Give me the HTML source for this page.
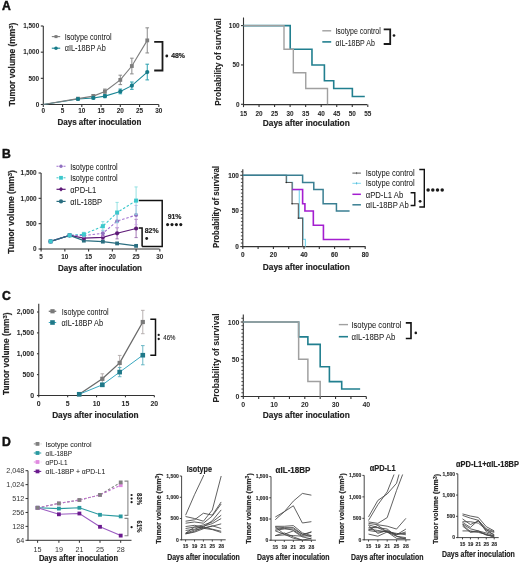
<!DOCTYPE html><html><head><meta charset="utf-8"><style>html,body{margin:0;padding:0;background:#fff;width:520px;height:564px;overflow:hidden}svg text{font-family:"Liberation Sans",sans-serif}</style></head><body><svg width="520" height="564" viewBox="0 0 520 564" style="display:block;filter:blur(0.35px)">
<rect width="520" height="564" fill="#fff"/>
<text x="6.30" y="10.19" font-size="12.2" font-weight="bold" text-anchor="middle" fill="#111" stroke="#111" stroke-width="0.45">A</text>
<text x="6.30" y="158.19" font-size="12.2" font-weight="bold" text-anchor="middle" fill="#111" stroke="#111" stroke-width="0.45">B</text>
<text x="6.30" y="299.99" font-size="12.2" font-weight="bold" text-anchor="middle" fill="#111" stroke="#111" stroke-width="0.45">C</text>
<text x="6.30" y="446.19" font-size="12.2" font-weight="bold" text-anchor="middle" fill="#111" stroke="#111" stroke-width="0.45">D</text>
<line x1="43.30" y1="105.05" x2="43.30" y2="26.00" stroke="#333" stroke-width="1.1"/>
<line x1="42.75" y1="104.50" x2="158.80" y2="104.50" stroke="#333" stroke-width="1.1"/>
<line x1="43.30" y1="104.50" x2="43.30" y2="107.00" stroke="#333" stroke-width="1.1"/>
<text x="43.30" y="113.30" font-size="6.4" font-weight="bold" text-anchor="middle" fill="#2a2a2a" stroke="#2a2a2a" stroke-width="0.05">0</text>
<line x1="62.55" y1="104.50" x2="62.55" y2="107.00" stroke="#333" stroke-width="1.1"/>
<text x="62.55" y="113.30" font-size="6.4" font-weight="bold" text-anchor="middle" fill="#2a2a2a" stroke="#2a2a2a" stroke-width="0.05">5</text>
<line x1="81.80" y1="104.50" x2="81.80" y2="107.00" stroke="#333" stroke-width="1.1"/>
<text x="81.80" y="113.30" font-size="6.4" font-weight="bold" text-anchor="middle" fill="#2a2a2a" stroke="#2a2a2a" stroke-width="0.05">10</text>
<line x1="101.05" y1="104.50" x2="101.05" y2="107.00" stroke="#333" stroke-width="1.1"/>
<text x="101.05" y="113.30" font-size="6.4" font-weight="bold" text-anchor="middle" fill="#2a2a2a" stroke="#2a2a2a" stroke-width="0.05">15</text>
<line x1="120.30" y1="104.50" x2="120.30" y2="107.00" stroke="#333" stroke-width="1.1"/>
<text x="120.30" y="113.30" font-size="6.4" font-weight="bold" text-anchor="middle" fill="#2a2a2a" stroke="#2a2a2a" stroke-width="0.05">20</text>
<line x1="139.55" y1="104.50" x2="139.55" y2="107.00" stroke="#333" stroke-width="1.1"/>
<text x="139.55" y="113.30" font-size="6.4" font-weight="bold" text-anchor="middle" fill="#2a2a2a" stroke="#2a2a2a" stroke-width="0.05">25</text>
<line x1="158.80" y1="104.50" x2="158.80" y2="107.00" stroke="#333" stroke-width="1.1"/>
<text x="158.80" y="113.30" font-size="6.4" font-weight="bold" text-anchor="middle" fill="#2a2a2a" stroke="#2a2a2a" stroke-width="0.05">30</text>
<line x1="40.80" y1="104.50" x2="43.30" y2="104.50" stroke="#333" stroke-width="1.1"/>
<text x="39.20" y="106.80" font-size="6.4" font-weight="bold" text-anchor="end" fill="#2a2a2a" stroke="#2a2a2a" stroke-width="0.05">0</text>
<line x1="40.80" y1="78.33" x2="43.30" y2="78.33" stroke="#333" stroke-width="1.1"/>
<text x="39.20" y="80.64" font-size="6.4" font-weight="bold" text-anchor="end" fill="#2a2a2a" stroke="#2a2a2a" stroke-width="0.05">500</text>
<line x1="40.80" y1="52.17" x2="43.30" y2="52.17" stroke="#333" stroke-width="1.1"/>
<text x="39.20" y="54.47" font-size="6.4" font-weight="bold" text-anchor="end" fill="#2a2a2a" stroke="#2a2a2a" stroke-width="0.05">1,000</text>
<line x1="40.80" y1="26.00" x2="43.30" y2="26.00" stroke="#333" stroke-width="1.1"/>
<text x="39.20" y="28.30" font-size="6.4" font-weight="bold" text-anchor="end" fill="#2a2a2a" stroke="#2a2a2a" stroke-width="0.05">1,500</text>
<text x="99.40" y="125.40" font-size="8.6" font-weight="bold" text-anchor="middle" fill="#222" stroke="#222" stroke-width="0.18" textLength="84" lengthAdjust="spacingAndGlyphs">Days after inoculation</text>
<text x="11.60" y="67.50" font-size="8.6" font-weight="bold" text-anchor="middle" fill="#222" stroke="#222" stroke-width="0.18" textLength="83.5" lengthAdjust="spacingAndGlyphs" transform="rotate(-90 11.60 64.40)">Tumor volume (mm<tspan font-size="0.7em" dy="-0.35em">3</tspan><tspan dy="0.35em">)</tspan></text>
<polyline points="43.30,104.50 77.95,99.00 93.35,97.96 104.90,96.13 120.30,91.42 131.85,85.66 147.25,72.05" fill="none" stroke="#1b8796" stroke-width="1.1" stroke-linecap="butt" stroke-linejoin="miter"/>
<polyline points="43.30,104.50 77.95,98.64 93.35,96.13 104.90,91.42 120.30,79.90 131.85,66.03 147.25,40.39" fill="none" stroke="#7d7d7d" stroke-width="1.1" stroke-linecap="butt" stroke-linejoin="miter"/>
<line x1="77.95" y1="99.69" x2="77.95" y2="97.59" stroke="#8a8a8a" stroke-width="1"/>
<line x1="76.15" y1="99.69" x2="79.75" y2="99.69" stroke="#8a8a8a" stroke-width="1"/>
<line x1="76.15" y1="97.59" x2="79.75" y2="97.59" stroke="#8a8a8a" stroke-width="1"/>
<rect x="76.05" y="96.74" width="3.80" height="3.80" fill="#7d7d7d"/>
<line x1="93.35" y1="97.70" x2="93.35" y2="94.56" stroke="#8a8a8a" stroke-width="1"/>
<line x1="91.55" y1="97.70" x2="95.15" y2="97.70" stroke="#8a8a8a" stroke-width="1"/>
<line x1="91.55" y1="94.56" x2="95.15" y2="94.56" stroke="#8a8a8a" stroke-width="1"/>
<rect x="91.45" y="94.23" width="3.80" height="3.80" fill="#7d7d7d"/>
<line x1="104.90" y1="93.77" x2="104.90" y2="89.06" stroke="#8a8a8a" stroke-width="1"/>
<line x1="103.10" y1="93.77" x2="106.70" y2="93.77" stroke="#8a8a8a" stroke-width="1"/>
<line x1="103.10" y1="89.06" x2="106.70" y2="89.06" stroke="#8a8a8a" stroke-width="1"/>
<rect x="103.00" y="89.52" width="3.80" height="3.80" fill="#7d7d7d"/>
<line x1="120.30" y1="84.61" x2="120.30" y2="75.19" stroke="#8a8a8a" stroke-width="1"/>
<line x1="118.50" y1="84.61" x2="122.10" y2="84.61" stroke="#8a8a8a" stroke-width="1"/>
<line x1="118.50" y1="75.19" x2="122.10" y2="75.19" stroke="#8a8a8a" stroke-width="1"/>
<rect x="118.40" y="78.00" width="3.80" height="3.80" fill="#7d7d7d"/>
<line x1="131.85" y1="73.88" x2="131.85" y2="58.18" stroke="#8a8a8a" stroke-width="1"/>
<line x1="130.05" y1="73.88" x2="133.65" y2="73.88" stroke="#8a8a8a" stroke-width="1"/>
<line x1="130.05" y1="58.18" x2="133.65" y2="58.18" stroke="#8a8a8a" stroke-width="1"/>
<rect x="129.95" y="64.13" width="3.80" height="3.80" fill="#7d7d7d"/>
<line x1="147.25" y1="52.95" x2="147.25" y2="27.83" stroke="#8a8a8a" stroke-width="1"/>
<line x1="145.45" y1="52.95" x2="149.05" y2="52.95" stroke="#8a8a8a" stroke-width="1"/>
<line x1="145.45" y1="27.83" x2="149.05" y2="27.83" stroke="#8a8a8a" stroke-width="1"/>
<rect x="145.35" y="38.49" width="3.80" height="3.80" fill="#7d7d7d"/>
<line x1="77.95" y1="99.79" x2="77.95" y2="98.22" stroke="#2aa0ae" stroke-width="1"/>
<line x1="76.15" y1="99.79" x2="79.75" y2="99.79" stroke="#2aa0ae" stroke-width="1"/>
<line x1="76.15" y1="98.22" x2="79.75" y2="98.22" stroke="#2aa0ae" stroke-width="1"/>
<circle cx="77.95" cy="99.00" r="2.10" fill="#177a88"/>
<line x1="93.35" y1="99.00" x2="93.35" y2="96.91" stroke="#2aa0ae" stroke-width="1"/>
<line x1="91.55" y1="99.00" x2="95.15" y2="99.00" stroke="#2aa0ae" stroke-width="1"/>
<line x1="91.55" y1="96.91" x2="95.15" y2="96.91" stroke="#2aa0ae" stroke-width="1"/>
<circle cx="93.35" cy="97.96" r="2.10" fill="#177a88"/>
<line x1="104.90" y1="97.70" x2="104.90" y2="94.56" stroke="#2aa0ae" stroke-width="1"/>
<line x1="103.10" y1="97.70" x2="106.70" y2="97.70" stroke="#2aa0ae" stroke-width="1"/>
<line x1="103.10" y1="94.56" x2="106.70" y2="94.56" stroke="#2aa0ae" stroke-width="1"/>
<circle cx="104.90" cy="96.13" r="2.10" fill="#177a88"/>
<line x1="120.30" y1="93.77" x2="120.30" y2="89.06" stroke="#2aa0ae" stroke-width="1"/>
<line x1="118.50" y1="93.77" x2="122.10" y2="93.77" stroke="#2aa0ae" stroke-width="1"/>
<line x1="118.50" y1="89.06" x2="122.10" y2="89.06" stroke="#2aa0ae" stroke-width="1"/>
<circle cx="120.30" cy="91.42" r="2.10" fill="#177a88"/>
<line x1="131.85" y1="89.32" x2="131.85" y2="82.00" stroke="#2aa0ae" stroke-width="1"/>
<line x1="130.05" y1="89.32" x2="133.65" y2="89.32" stroke="#2aa0ae" stroke-width="1"/>
<line x1="130.05" y1="82.00" x2="133.65" y2="82.00" stroke="#2aa0ae" stroke-width="1"/>
<circle cx="131.85" cy="85.66" r="2.10" fill="#177a88"/>
<line x1="147.25" y1="79.90" x2="147.25" y2="64.20" stroke="#2aa0ae" stroke-width="1"/>
<line x1="145.45" y1="79.90" x2="149.05" y2="79.90" stroke="#2aa0ae" stroke-width="1"/>
<line x1="145.45" y1="64.20" x2="149.05" y2="64.20" stroke="#2aa0ae" stroke-width="1"/>
<circle cx="147.25" cy="72.05" r="2.10" fill="#177a88"/>
<line x1="51.80" y1="36.60" x2="60.20" y2="36.60" stroke="#7d7d7d" stroke-width="1.1"/>
<rect x="54.50" y="35.10" width="3.00" height="3.00" fill="#7d7d7d"/>
<text x="64.70" y="39.72" font-size="8.4" font-weight="normal" text-anchor="start" fill="#222" stroke="#222" stroke-width="0.04" textLength="46.8" lengthAdjust="spacingAndGlyphs">Isotype control</text>
<line x1="51.80" y1="48.20" x2="60.20" y2="48.20" stroke="#1b8796" stroke-width="1.1"/>
<circle cx="56.00" cy="48.20" r="1.80" fill="#177a88"/>
<text x="64.70" y="51.32" font-size="8.4" font-weight="normal" text-anchor="start" fill="#222" stroke="#222" stroke-width="0.04" textLength="41" lengthAdjust="spacingAndGlyphs">αIL-18BP Ab</text>
<polyline points="154.20,41.80 162.50,41.80 162.50,70.50 154.20,70.50" fill="none" stroke="#1a1a1a" stroke-width="1.8" stroke-linecap="butt" stroke-linejoin="miter"/>
<circle cx="166.80" cy="56.00" r="1.40" fill="#1a1a1a"/>
<text x="171.20" y="58.34" font-size="7.6" font-weight="bold" text-anchor="start" fill="#222" stroke="#222" stroke-width="0.18" textLength="13.8" lengthAdjust="spacingAndGlyphs">48%</text>
<line x1="243.50" y1="105.15" x2="243.50" y2="17.50" stroke="#333" stroke-width="1.1"/>
<line x1="242.95" y1="104.60" x2="367.30" y2="104.60" stroke="#333" stroke-width="1.1"/>
<line x1="243.50" y1="104.60" x2="243.50" y2="107.10" stroke="#333" stroke-width="1.1"/>
<text x="243.50" y="115.50" font-size="6.4" font-weight="bold" text-anchor="middle" fill="#2a2a2a" stroke="#2a2a2a" stroke-width="0.05">15</text>
<line x1="259.04" y1="104.60" x2="259.04" y2="107.10" stroke="#333" stroke-width="1.1"/>
<text x="259.04" y="115.50" font-size="6.4" font-weight="bold" text-anchor="middle" fill="#2a2a2a" stroke="#2a2a2a" stroke-width="0.05">20</text>
<line x1="274.57" y1="104.60" x2="274.57" y2="107.10" stroke="#333" stroke-width="1.1"/>
<text x="274.57" y="115.50" font-size="6.4" font-weight="bold" text-anchor="middle" fill="#2a2a2a" stroke="#2a2a2a" stroke-width="0.05">25</text>
<line x1="290.11" y1="104.60" x2="290.11" y2="107.10" stroke="#333" stroke-width="1.1"/>
<text x="290.11" y="115.50" font-size="6.4" font-weight="bold" text-anchor="middle" fill="#2a2a2a" stroke="#2a2a2a" stroke-width="0.05">30</text>
<line x1="305.65" y1="104.60" x2="305.65" y2="107.10" stroke="#333" stroke-width="1.1"/>
<text x="305.65" y="115.50" font-size="6.4" font-weight="bold" text-anchor="middle" fill="#2a2a2a" stroke="#2a2a2a" stroke-width="0.05">35</text>
<line x1="321.19" y1="104.60" x2="321.19" y2="107.10" stroke="#333" stroke-width="1.1"/>
<text x="321.19" y="115.50" font-size="6.4" font-weight="bold" text-anchor="middle" fill="#2a2a2a" stroke="#2a2a2a" stroke-width="0.05">40</text>
<line x1="336.73" y1="104.60" x2="336.73" y2="107.10" stroke="#333" stroke-width="1.1"/>
<text x="336.73" y="115.50" font-size="6.4" font-weight="bold" text-anchor="middle" fill="#2a2a2a" stroke="#2a2a2a" stroke-width="0.05">45</text>
<line x1="352.26" y1="104.60" x2="352.26" y2="107.10" stroke="#333" stroke-width="1.1"/>
<text x="352.26" y="115.50" font-size="6.4" font-weight="bold" text-anchor="middle" fill="#2a2a2a" stroke="#2a2a2a" stroke-width="0.05">50</text>
<line x1="367.80" y1="104.60" x2="367.80" y2="107.10" stroke="#333" stroke-width="1.1"/>
<text x="367.80" y="115.50" font-size="6.4" font-weight="bold" text-anchor="middle" fill="#2a2a2a" stroke="#2a2a2a" stroke-width="0.05">55</text>
<line x1="241.00" y1="104.30" x2="243.50" y2="104.30" stroke="#333" stroke-width="1.1"/>
<text x="239.50" y="106.60" font-size="6.4" font-weight="bold" text-anchor="end" fill="#2a2a2a" stroke="#2a2a2a" stroke-width="0.05">0</text>
<line x1="241.00" y1="64.95" x2="243.50" y2="64.95" stroke="#333" stroke-width="1.1"/>
<text x="239.50" y="67.25" font-size="6.4" font-weight="bold" text-anchor="end" fill="#2a2a2a" stroke="#2a2a2a" stroke-width="0.05">50</text>
<line x1="241.00" y1="25.60" x2="243.50" y2="25.60" stroke="#333" stroke-width="1.1"/>
<text x="239.50" y="27.90" font-size="6.4" font-weight="bold" text-anchor="end" fill="#2a2a2a" stroke="#2a2a2a" stroke-width="0.05">100</text>
<text x="306.30" y="126.40" font-size="8.6" font-weight="bold" text-anchor="middle" fill="#222" stroke="#222" stroke-width="0.18" textLength="87" lengthAdjust="spacingAndGlyphs">Days after inoculation</text>
<text x="218.00" y="65.02" font-size="8.4" font-weight="bold" text-anchor="middle" fill="#222" stroke="#222" stroke-width="0.08" textLength="87.7" lengthAdjust="spacingAndGlyphs" transform="rotate(-90 218.00 62.00)">Probability of survival</text>
<polyline points="243.60,25.60 290.21,25.60 290.21,49.21 311.97,49.21 311.97,64.95 324.40,64.95 324.40,80.69 333.72,80.69 333.72,88.56 352.36,88.56 352.36,96.43 364.79,96.43" fill="none" stroke="#217f8f" stroke-width="1.6" stroke-linecap="butt" stroke-linejoin="miter"/>
<polyline points="243.60,25.60 284.00,25.60 284.00,49.21 293.32,49.21 293.32,72.82 305.75,72.82 305.75,88.56 327.50,88.56 327.50,104.30" fill="none" stroke="#a0a0a0" stroke-width="1.4" stroke-linecap="butt" stroke-linejoin="miter"/>
<line x1="322.30" y1="30.80" x2="331.20" y2="30.80" stroke="#a0a0a0" stroke-width="1.4"/>
<text x="335.40" y="34.02" font-size="8.4" font-weight="normal" text-anchor="start" fill="#222" stroke="#222" stroke-width="0.04" textLength="45.3" lengthAdjust="spacingAndGlyphs">Isotype control</text>
<line x1="322.30" y1="41.90" x2="331.20" y2="41.90" stroke="#217f8f" stroke-width="1.6"/>
<text x="335.40" y="45.52" font-size="8.4" font-weight="normal" text-anchor="start" fill="#222" stroke="#222" stroke-width="0.04" textLength="39.4" lengthAdjust="spacingAndGlyphs">αIL-18BP Ab</text>
<polyline points="383.70,29.40 390.20,29.40 390.20,44.00 383.70,44.00" fill="none" stroke="#1a1a1a" stroke-width="1.8" stroke-linecap="butt" stroke-linejoin="miter"/>
<circle cx="394.00" cy="35.50" r="1.35" fill="#1a1a1a"/>
<line x1="41.10" y1="249.55" x2="41.10" y2="173.00" stroke="#333" stroke-width="1.1"/>
<line x1="40.55" y1="249.00" x2="159.60" y2="249.00" stroke="#333" stroke-width="1.1"/>
<line x1="41.10" y1="249.00" x2="41.10" y2="251.50" stroke="#333" stroke-width="1.1"/>
<text x="41.10" y="258.90" font-size="6.4" font-weight="bold" text-anchor="middle" fill="#2a2a2a" stroke="#2a2a2a" stroke-width="0.05">5</text>
<line x1="64.85" y1="249.00" x2="64.85" y2="251.50" stroke="#333" stroke-width="1.1"/>
<text x="64.85" y="258.90" font-size="6.4" font-weight="bold" text-anchor="middle" fill="#2a2a2a" stroke="#2a2a2a" stroke-width="0.05">10</text>
<line x1="88.60" y1="249.00" x2="88.60" y2="251.50" stroke="#333" stroke-width="1.1"/>
<text x="88.60" y="258.90" font-size="6.4" font-weight="bold" text-anchor="middle" fill="#2a2a2a" stroke="#2a2a2a" stroke-width="0.05">15</text>
<line x1="112.35" y1="249.00" x2="112.35" y2="251.50" stroke="#333" stroke-width="1.1"/>
<text x="112.35" y="258.90" font-size="6.4" font-weight="bold" text-anchor="middle" fill="#2a2a2a" stroke="#2a2a2a" stroke-width="0.05">20</text>
<line x1="136.10" y1="249.00" x2="136.10" y2="251.50" stroke="#333" stroke-width="1.1"/>
<text x="136.10" y="258.90" font-size="6.4" font-weight="bold" text-anchor="middle" fill="#2a2a2a" stroke="#2a2a2a" stroke-width="0.05">25</text>
<line x1="159.85" y1="249.00" x2="159.85" y2="251.50" stroke="#333" stroke-width="1.1"/>
<text x="159.85" y="258.90" font-size="6.4" font-weight="bold" text-anchor="middle" fill="#2a2a2a" stroke="#2a2a2a" stroke-width="0.05">30</text>
<line x1="38.60" y1="249.00" x2="41.10" y2="249.00" stroke="#333" stroke-width="1.1"/>
<text x="36.60" y="251.30" font-size="6.4" font-weight="bold" text-anchor="end" fill="#2a2a2a" stroke="#2a2a2a" stroke-width="0.05">0</text>
<line x1="38.60" y1="223.67" x2="41.10" y2="223.67" stroke="#333" stroke-width="1.1"/>
<text x="36.60" y="225.97" font-size="6.4" font-weight="bold" text-anchor="end" fill="#2a2a2a" stroke="#2a2a2a" stroke-width="0.05">500</text>
<line x1="38.60" y1="198.33" x2="41.10" y2="198.33" stroke="#333" stroke-width="1.1"/>
<text x="36.60" y="200.64" font-size="6.4" font-weight="bold" text-anchor="end" fill="#2a2a2a" stroke="#2a2a2a" stroke-width="0.05">1,000</text>
<line x1="38.60" y1="173.00" x2="41.10" y2="173.00" stroke="#333" stroke-width="1.1"/>
<text x="36.60" y="175.30" font-size="6.4" font-weight="bold" text-anchor="end" fill="#2a2a2a" stroke="#2a2a2a" stroke-width="0.05">1,500</text>
<text x="100.00" y="270.70" font-size="8.6" font-weight="bold" text-anchor="middle" fill="#222" stroke="#222" stroke-width="0.18" textLength="84" lengthAdjust="spacingAndGlyphs">Days after inoculation</text>
<text x="10.80" y="215.00" font-size="8.6" font-weight="bold" text-anchor="middle" fill="#222" stroke="#222" stroke-width="0.18" textLength="83.5" lengthAdjust="spacingAndGlyphs" transform="rotate(-90 10.80 211.90)">Tumor volume (mm<tspan font-size="0.7em" dy="-0.35em">3</tspan><tspan dy="0.35em">)</tspan></text>
<polyline points="50.60,241.40 69.60,235.32 83.85,234.31 102.85,226.20 117.10,212.52 136.10,200.61" fill="none" stroke="#3cc8cc" stroke-width="1.1" stroke-linecap="butt" stroke-linejoin="miter" stroke-dasharray="2.5,1.8"/>
<polyline points="50.60,241.40 69.60,235.32 83.85,235.57 102.85,233.29 117.10,221.13 136.10,215.05" fill="none" stroke="#a070d0" stroke-width="1.1" stroke-linecap="butt" stroke-linejoin="miter" stroke-dasharray="2.5,1.8"/>
<polyline points="50.60,241.40 69.60,235.32 83.85,238.11 102.85,237.35 117.10,233.29 136.10,228.48" fill="none" stroke="#5e1a78" stroke-width="1.2" stroke-linecap="butt" stroke-linejoin="miter"/>
<polyline points="50.60,241.40 69.60,235.32 83.85,240.64 102.85,241.65 117.10,243.43 136.10,245.86" fill="none" stroke="#2a6e80" stroke-width="1.2" stroke-linecap="butt" stroke-linejoin="miter"/>
<rect x="48.70" y="239.50" width="3.80" height="3.80" fill="#2a6e80"/>
<rect x="67.70" y="233.42" width="3.80" height="3.80" fill="#2a6e80"/>
<rect x="81.95" y="238.74" width="3.80" height="3.80" fill="#2a6e80"/>
<rect x="100.95" y="239.75" width="3.80" height="3.80" fill="#2a6e80"/>
<rect x="115.20" y="241.53" width="3.80" height="3.80" fill="#2a6e80"/>
<rect x="134.20" y="243.96" width="3.80" height="3.80" fill="#2a6e80"/>
<line x1="50.60" y1="241.91" x2="50.60" y2="240.89" stroke="#9a6aae" stroke-width="0.9"/>
<line x1="49.00" y1="241.91" x2="52.20" y2="241.91" stroke="#9a6aae" stroke-width="0.9"/>
<line x1="49.00" y1="240.89" x2="52.20" y2="240.89" stroke="#9a6aae" stroke-width="0.9"/>
<circle cx="50.60" cy="241.40" r="2.10" fill="#5e1a78"/>
<line x1="69.60" y1="236.08" x2="69.60" y2="234.56" stroke="#9a6aae" stroke-width="0.9"/>
<line x1="68.00" y1="236.08" x2="71.20" y2="236.08" stroke="#9a6aae" stroke-width="0.9"/>
<line x1="68.00" y1="234.56" x2="71.20" y2="234.56" stroke="#9a6aae" stroke-width="0.9"/>
<circle cx="69.60" cy="235.32" r="2.10" fill="#5e1a78"/>
<line x1="83.85" y1="239.37" x2="83.85" y2="236.84" stroke="#9a6aae" stroke-width="0.9"/>
<line x1="82.25" y1="239.37" x2="85.45" y2="239.37" stroke="#9a6aae" stroke-width="0.9"/>
<line x1="82.25" y1="236.84" x2="85.45" y2="236.84" stroke="#9a6aae" stroke-width="0.9"/>
<circle cx="83.85" cy="238.11" r="2.10" fill="#5e1a78"/>
<line x1="102.85" y1="239.37" x2="102.85" y2="235.32" stroke="#9a6aae" stroke-width="0.9"/>
<line x1="101.25" y1="239.37" x2="104.45" y2="239.37" stroke="#9a6aae" stroke-width="0.9"/>
<line x1="101.25" y1="235.32" x2="104.45" y2="235.32" stroke="#9a6aae" stroke-width="0.9"/>
<circle cx="102.85" cy="237.35" r="2.10" fill="#5e1a78"/>
<line x1="117.10" y1="238.87" x2="117.10" y2="227.72" stroke="#9a6aae" stroke-width="0.9"/>
<line x1="115.50" y1="238.87" x2="118.70" y2="238.87" stroke="#9a6aae" stroke-width="0.9"/>
<line x1="115.50" y1="227.72" x2="118.70" y2="227.72" stroke="#9a6aae" stroke-width="0.9"/>
<circle cx="117.10" cy="233.29" r="2.10" fill="#5e1a78"/>
<line x1="136.10" y1="237.60" x2="136.10" y2="219.36" stroke="#9a6aae" stroke-width="0.9"/>
<line x1="134.50" y1="237.60" x2="137.70" y2="237.60" stroke="#9a6aae" stroke-width="0.9"/>
<line x1="134.50" y1="219.36" x2="137.70" y2="219.36" stroke="#9a6aae" stroke-width="0.9"/>
<circle cx="136.10" cy="228.48" r="2.10" fill="#5e1a78"/>
<line x1="50.60" y1="241.91" x2="50.60" y2="240.89" stroke="#c9a6e6" stroke-width="0.9"/>
<line x1="49.00" y1="241.91" x2="52.20" y2="241.91" stroke="#c9a6e6" stroke-width="0.9"/>
<line x1="49.00" y1="240.89" x2="52.20" y2="240.89" stroke="#c9a6e6" stroke-width="0.9"/>
<circle cx="50.60" cy="241.40" r="2.00" fill="#9070c0"/>
<line x1="69.60" y1="236.08" x2="69.60" y2="234.56" stroke="#c9a6e6" stroke-width="0.9"/>
<line x1="68.00" y1="236.08" x2="71.20" y2="236.08" stroke="#c9a6e6" stroke-width="0.9"/>
<line x1="68.00" y1="234.56" x2="71.20" y2="234.56" stroke="#c9a6e6" stroke-width="0.9"/>
<circle cx="69.60" cy="235.32" r="2.00" fill="#9070c0"/>
<line x1="83.85" y1="237.09" x2="83.85" y2="234.05" stroke="#c9a6e6" stroke-width="0.9"/>
<line x1="82.25" y1="237.09" x2="85.45" y2="237.09" stroke="#c9a6e6" stroke-width="0.9"/>
<line x1="82.25" y1="234.05" x2="85.45" y2="234.05" stroke="#c9a6e6" stroke-width="0.9"/>
<circle cx="83.85" cy="235.57" r="2.00" fill="#9070c0"/>
<line x1="102.85" y1="236.33" x2="102.85" y2="230.25" stroke="#c9a6e6" stroke-width="0.9"/>
<line x1="101.25" y1="236.33" x2="104.45" y2="236.33" stroke="#c9a6e6" stroke-width="0.9"/>
<line x1="101.25" y1="230.25" x2="104.45" y2="230.25" stroke="#c9a6e6" stroke-width="0.9"/>
<circle cx="102.85" cy="233.29" r="2.00" fill="#9070c0"/>
<line x1="117.10" y1="227.72" x2="117.10" y2="214.55" stroke="#c9a6e6" stroke-width="0.9"/>
<line x1="115.50" y1="227.72" x2="118.70" y2="227.72" stroke="#c9a6e6" stroke-width="0.9"/>
<line x1="115.50" y1="214.55" x2="118.70" y2="214.55" stroke="#c9a6e6" stroke-width="0.9"/>
<circle cx="117.10" cy="221.13" r="2.00" fill="#9070c0"/>
<line x1="136.10" y1="224.68" x2="136.10" y2="205.43" stroke="#c9a6e6" stroke-width="0.9"/>
<line x1="134.50" y1="224.68" x2="137.70" y2="224.68" stroke="#c9a6e6" stroke-width="0.9"/>
<line x1="134.50" y1="205.43" x2="137.70" y2="205.43" stroke="#c9a6e6" stroke-width="0.9"/>
<circle cx="136.10" cy="215.05" r="2.00" fill="#9070c0"/>
<line x1="50.60" y1="241.91" x2="50.60" y2="240.89" stroke="#8adfe0" stroke-width="0.9"/>
<line x1="49.00" y1="241.91" x2="52.20" y2="241.91" stroke="#8adfe0" stroke-width="0.9"/>
<line x1="49.00" y1="240.89" x2="52.20" y2="240.89" stroke="#8adfe0" stroke-width="0.9"/>
<rect x="48.60" y="239.40" width="4.00" height="4.00" fill="#3cc8cc"/>
<line x1="69.60" y1="236.08" x2="69.60" y2="234.56" stroke="#8adfe0" stroke-width="0.9"/>
<line x1="68.00" y1="236.08" x2="71.20" y2="236.08" stroke="#8adfe0" stroke-width="0.9"/>
<line x1="68.00" y1="234.56" x2="71.20" y2="234.56" stroke="#8adfe0" stroke-width="0.9"/>
<rect x="67.60" y="233.32" width="4.00" height="4.00" fill="#3cc8cc"/>
<line x1="83.85" y1="236.33" x2="83.85" y2="232.28" stroke="#8adfe0" stroke-width="0.9"/>
<line x1="82.25" y1="236.33" x2="85.45" y2="236.33" stroke="#8adfe0" stroke-width="0.9"/>
<line x1="82.25" y1="232.28" x2="85.45" y2="232.28" stroke="#8adfe0" stroke-width="0.9"/>
<rect x="81.85" y="232.31" width="4.00" height="4.00" fill="#3cc8cc"/>
<line x1="102.85" y1="230.76" x2="102.85" y2="221.64" stroke="#8adfe0" stroke-width="0.9"/>
<line x1="101.25" y1="230.76" x2="104.45" y2="230.76" stroke="#8adfe0" stroke-width="0.9"/>
<line x1="101.25" y1="221.64" x2="104.45" y2="221.64" stroke="#8adfe0" stroke-width="0.9"/>
<rect x="100.85" y="224.20" width="4.00" height="4.00" fill="#3cc8cc"/>
<line x1="117.10" y1="222.65" x2="117.10" y2="202.39" stroke="#8adfe0" stroke-width="0.9"/>
<line x1="115.50" y1="222.65" x2="118.70" y2="222.65" stroke="#8adfe0" stroke-width="0.9"/>
<line x1="115.50" y1="202.39" x2="118.70" y2="202.39" stroke="#8adfe0" stroke-width="0.9"/>
<rect x="115.10" y="210.52" width="4.00" height="4.00" fill="#3cc8cc"/>
<line x1="136.10" y1="214.29" x2="136.10" y2="186.93" stroke="#8adfe0" stroke-width="0.9"/>
<line x1="134.50" y1="214.29" x2="137.70" y2="214.29" stroke="#8adfe0" stroke-width="0.9"/>
<line x1="134.50" y1="186.93" x2="137.70" y2="186.93" stroke="#8adfe0" stroke-width="0.9"/>
<rect x="134.10" y="198.61" width="4.00" height="4.00" fill="#3cc8cc"/>
<line x1="56.50" y1="166.30" x2="65.60" y2="166.30" stroke="#a070d0" stroke-width="1.1" stroke-dasharray="2,1.5"/>
<circle cx="61.00" cy="166.30" r="1.70" fill="#9070c0"/>
<text x="70.20" y="169.52" font-size="8.4" font-weight="normal" text-anchor="start" fill="#222" stroke="#222" stroke-width="0.04" textLength="47.5" lengthAdjust="spacingAndGlyphs">Isotype control</text>
<rect x="59.10" y="175.90" width="3.80" height="3.80" fill="#3cc8cc"/>
<line x1="56.50" y1="177.80" x2="65.60" y2="177.80" stroke="#3cc8cc" stroke-width="1.0" stroke-dasharray="2,1.5"/>
<text x="70.20" y="181.02" font-size="8.4" font-weight="normal" text-anchor="start" fill="#222" stroke="#222" stroke-width="0.04" textLength="47.5" lengthAdjust="spacingAndGlyphs">Isotype control</text>
<line x1="56.50" y1="189.30" x2="65.60" y2="189.30" stroke="#5e1a78" stroke-width="1.2"/>
<polygon points="61.00,187.10 63.20,189.30 61.00,191.50 58.80,189.30" fill="#5e1a78"/>
<text x="70.20" y="192.52" font-size="8.4" font-weight="normal" text-anchor="start" fill="#222" stroke="#222" stroke-width="0.04" textLength="26" lengthAdjust="spacingAndGlyphs">αPD-L1</text>
<line x1="56.50" y1="201.40" x2="65.60" y2="201.40" stroke="#2a6e80" stroke-width="1.2"/>
<circle cx="61.00" cy="201.40" r="2.10" fill="#2a6e80"/>
<text x="70.20" y="204.62" font-size="8.4" font-weight="normal" text-anchor="start" fill="#222" stroke="#222" stroke-width="0.04" textLength="32" lengthAdjust="spacingAndGlyphs">αIL-18BP</text>
<polyline points="138.80,200.60 162.20,200.60 162.20,246.50 142.10,246.50" fill="none" stroke="#111" stroke-width="1.5" stroke-linecap="butt" stroke-linejoin="miter"/>
<polyline points="138.80,228.10 142.10,228.10 142.10,246.50" fill="none" stroke="#111" stroke-width="1.5" stroke-linecap="butt" stroke-linejoin="miter"/>
<text x="174.60" y="218.74" font-size="7.6" font-weight="bold" text-anchor="middle" fill="#222" stroke="#222" stroke-width="0.18" textLength="13.8" lengthAdjust="spacingAndGlyphs">91%</text>
<circle cx="167.60" cy="224.60" r="1.55" fill="#1a1a1a"/>
<circle cx="172.00" cy="224.60" r="1.55" fill="#1a1a1a"/>
<circle cx="176.40" cy="224.60" r="1.55" fill="#1a1a1a"/>
<circle cx="180.80" cy="224.60" r="1.55" fill="#1a1a1a"/>
<text x="151.70" y="233.14" font-size="7.6" font-weight="bold" text-anchor="middle" fill="#222" stroke="#222" stroke-width="0.18" textLength="13.9" lengthAdjust="spacingAndGlyphs">82%</text>
<circle cx="146.70" cy="238.50" r="1.40" fill="#1a1a1a"/>
<line x1="242.80" y1="247.15" x2="242.80" y2="169.20" stroke="#333" stroke-width="1.1"/>
<line x1="242.25" y1="246.60" x2="365.50" y2="246.60" stroke="#333" stroke-width="1.1"/>
<line x1="242.80" y1="246.60" x2="242.80" y2="249.10" stroke="#333" stroke-width="1.1"/>
<text x="242.80" y="257.10" font-size="6.4" font-weight="bold" text-anchor="middle" fill="#2a2a2a" stroke="#2a2a2a" stroke-width="0.12">0</text>
<line x1="273.40" y1="246.60" x2="273.40" y2="249.10" stroke="#333" stroke-width="1.1"/>
<text x="273.40" y="257.10" font-size="6.4" font-weight="bold" text-anchor="middle" fill="#2a2a2a" stroke="#2a2a2a" stroke-width="0.12">20</text>
<line x1="304.00" y1="246.60" x2="304.00" y2="249.10" stroke="#333" stroke-width="1.1"/>
<text x="304.00" y="257.10" font-size="6.4" font-weight="bold" text-anchor="middle" fill="#2a2a2a" stroke="#2a2a2a" stroke-width="0.12">40</text>
<line x1="334.60" y1="246.60" x2="334.60" y2="249.10" stroke="#333" stroke-width="1.1"/>
<text x="334.60" y="257.10" font-size="6.4" font-weight="bold" text-anchor="middle" fill="#2a2a2a" stroke="#2a2a2a" stroke-width="0.12">60</text>
<line x1="365.20" y1="246.60" x2="365.20" y2="249.10" stroke="#333" stroke-width="1.1"/>
<text x="365.20" y="257.10" font-size="6.4" font-weight="bold" text-anchor="middle" fill="#2a2a2a" stroke="#2a2a2a" stroke-width="0.12">80</text>
<line x1="258.10" y1="246.60" x2="258.10" y2="249.10" stroke="#333" stroke-width="1.1"/>
<line x1="288.70" y1="246.60" x2="288.70" y2="249.10" stroke="#333" stroke-width="1.1"/>
<line x1="319.30" y1="246.60" x2="319.30" y2="249.10" stroke="#333" stroke-width="1.1"/>
<line x1="349.90" y1="246.60" x2="349.90" y2="249.10" stroke="#333" stroke-width="1.1"/>
<line x1="240.30" y1="246.60" x2="242.80" y2="246.60" stroke="#333" stroke-width="1.1"/>
<text x="238.80" y="248.90" font-size="6.4" font-weight="bold" text-anchor="end" fill="#2a2a2a" stroke="#2a2a2a" stroke-width="0.12">0</text>
<line x1="240.30" y1="210.95" x2="242.80" y2="210.95" stroke="#333" stroke-width="1.1"/>
<text x="238.80" y="213.25" font-size="6.4" font-weight="bold" text-anchor="end" fill="#2a2a2a" stroke="#2a2a2a" stroke-width="0.12">50</text>
<line x1="240.30" y1="175.30" x2="242.80" y2="175.30" stroke="#333" stroke-width="1.1"/>
<text x="238.80" y="177.60" font-size="6.4" font-weight="bold" text-anchor="end" fill="#2a2a2a" stroke="#2a2a2a" stroke-width="0.12">100</text>
<line x1="240.90" y1="243.03" x2="242.80" y2="243.03" stroke="#333" stroke-width="0.9"/>
<line x1="240.90" y1="239.47" x2="242.80" y2="239.47" stroke="#333" stroke-width="0.9"/>
<line x1="240.90" y1="235.91" x2="242.80" y2="235.91" stroke="#333" stroke-width="0.9"/>
<line x1="240.90" y1="232.34" x2="242.80" y2="232.34" stroke="#333" stroke-width="0.9"/>
<line x1="240.90" y1="228.78" x2="242.80" y2="228.78" stroke="#333" stroke-width="0.9"/>
<line x1="240.90" y1="225.21" x2="242.80" y2="225.21" stroke="#333" stroke-width="0.9"/>
<line x1="240.90" y1="221.64" x2="242.80" y2="221.64" stroke="#333" stroke-width="0.9"/>
<line x1="240.90" y1="218.08" x2="242.80" y2="218.08" stroke="#333" stroke-width="0.9"/>
<line x1="240.90" y1="214.51" x2="242.80" y2="214.51" stroke="#333" stroke-width="0.9"/>
<line x1="240.90" y1="207.38" x2="242.80" y2="207.38" stroke="#333" stroke-width="0.9"/>
<line x1="240.90" y1="203.82" x2="242.80" y2="203.82" stroke="#333" stroke-width="0.9"/>
<line x1="240.90" y1="200.25" x2="242.80" y2="200.25" stroke="#333" stroke-width="0.9"/>
<line x1="240.90" y1="196.69" x2="242.80" y2="196.69" stroke="#333" stroke-width="0.9"/>
<line x1="240.90" y1="193.12" x2="242.80" y2="193.12" stroke="#333" stroke-width="0.9"/>
<line x1="240.90" y1="189.56" x2="242.80" y2="189.56" stroke="#333" stroke-width="0.9"/>
<line x1="240.90" y1="186.00" x2="242.80" y2="186.00" stroke="#333" stroke-width="0.9"/>
<line x1="240.90" y1="182.43" x2="242.80" y2="182.43" stroke="#333" stroke-width="0.9"/>
<line x1="240.90" y1="178.87" x2="242.80" y2="178.87" stroke="#333" stroke-width="0.9"/>
<line x1="240.90" y1="171.74" x2="242.80" y2="171.74" stroke="#333" stroke-width="0.9"/>
<text x="306.30" y="269.90" font-size="8.6" font-weight="bold" text-anchor="middle" fill="#222" stroke="#222" stroke-width="0.18" textLength="87" lengthAdjust="spacingAndGlyphs">Days after inoculation</text>
<text x="215.50" y="210.02" font-size="8.4" font-weight="bold" text-anchor="middle" fill="#222" stroke="#222" stroke-width="0.12" textLength="82" lengthAdjust="spacingAndGlyphs" transform="rotate(-90 215.50 207.00)">Probability of survival</text>
<polyline points="243.30,175.30 286.75,175.30 286.75,182.43 292.57,182.43 292.57,189.56 299.30,189.56 299.30,218.08 303.12,218.08 303.12,239.47 305.42,239.47 305.42,246.60" fill="none" stroke="#7fd8ee" stroke-width="1.2" stroke-linecap="butt" stroke-linejoin="miter"/>
<polyline points="242.80,175.30 286.25,175.30 286.25,182.43 292.07,182.43 292.07,203.82 298.34,203.82 298.34,218.08 302.62,218.08 302.62,246.60" fill="none" stroke="#5a5a5a" stroke-width="1.1" stroke-linecap="butt" stroke-linejoin="miter"/>
<circle cx="286.25" cy="182.43" r="0.70" fill="#222"/>
<circle cx="292.07" cy="203.82" r="0.70" fill="#222"/>
<circle cx="298.34" cy="218.08" r="0.70" fill="#222"/>
<polyline points="292.07,189.56 302.62,189.56 302.62,203.82 304.92,203.82 304.92,210.95 313.33,210.95 313.33,225.21 323.43,225.21 323.43,239.47 349.59,239.47" fill="none" stroke="#a41ed0" stroke-width="1.6" stroke-linecap="butt" stroke-linejoin="miter"/>
<polyline points="242.80,175.30 302.62,175.30 302.62,182.43 313.79,182.43 313.79,189.56 323.12,189.56 323.12,203.82 336.44,203.82 336.44,210.95 349.59,210.95" fill="none" stroke="#3a7f92" stroke-width="1.5" stroke-linecap="butt" stroke-linejoin="miter"/>
<line x1="352.40" y1="173.10" x2="360.90" y2="173.10" stroke="#5a5a5a" stroke-width="1.0"/>
<line x1="356.60" y1="172.00" x2="356.60" y2="174.20" stroke="#5a5a5a" stroke-width="0.8"/>
<text x="365.70" y="176.12" font-size="8.4" font-weight="normal" text-anchor="start" fill="#222" stroke="#222" stroke-width="0.04" textLength="49" lengthAdjust="spacingAndGlyphs">Isotype control</text>
<line x1="352.40" y1="183.30" x2="360.90" y2="183.30" stroke="#7fd8ee" stroke-width="1.0"/>
<line x1="356.60" y1="182.20" x2="356.60" y2="184.40" stroke="#40b0d0" stroke-width="0.8"/>
<text x="365.70" y="186.32" font-size="8.4" font-weight="normal" text-anchor="start" fill="#222" stroke="#222" stroke-width="0.04" textLength="49" lengthAdjust="spacingAndGlyphs">Isotype control</text>
<line x1="352.40" y1="194.30" x2="360.90" y2="194.30" stroke="#a41ed0" stroke-width="1.5"/>
<text x="365.70" y="197.52" font-size="8.4" font-weight="normal" text-anchor="start" fill="#222" stroke="#222" stroke-width="0.04" textLength="37.5" lengthAdjust="spacingAndGlyphs">αPD-L1 Ab</text>
<line x1="352.40" y1="204.80" x2="360.90" y2="204.80" stroke="#3a7f92" stroke-width="1.5"/>
<text x="365.70" y="208.02" font-size="8.4" font-weight="normal" text-anchor="start" fill="#222" stroke="#222" stroke-width="0.04" textLength="43" lengthAdjust="spacingAndGlyphs">αIL-18BP Ab</text>
<polyline points="419.30,169.50 424.30,169.50 424.30,207.00 419.30,207.00" fill="none" stroke="#111" stroke-width="1.4" stroke-linecap="butt" stroke-linejoin="miter"/>
<polyline points="410.60,192.80 414.80,192.80 414.80,205.50 410.60,205.50" fill="none" stroke="#111" stroke-width="1.4" stroke-linecap="butt" stroke-linejoin="miter"/>
<circle cx="428.10" cy="190.00" r="1.75" fill="#1a1a1a"/>
<circle cx="432.80" cy="190.00" r="1.75" fill="#1a1a1a"/>
<circle cx="437.50" cy="190.00" r="1.75" fill="#1a1a1a"/>
<circle cx="442.20" cy="190.00" r="1.75" fill="#1a1a1a"/>
<circle cx="420.10" cy="201.30" r="1.40" fill="#1a1a1a"/>
<line x1="38.75" y1="396.05" x2="38.75" y2="303.75" stroke="#333" stroke-width="1.1"/>
<line x1="38.20" y1="395.50" x2="154.30" y2="395.50" stroke="#333" stroke-width="1.1"/>
<line x1="38.75" y1="395.50" x2="38.75" y2="397.30" stroke="#333" stroke-width="1.1"/>
<text x="38.75" y="405.78" font-size="6.9" font-weight="bold" text-anchor="middle" fill="#2a2a2a" stroke="#2a2a2a" stroke-width="0.05">0</text>
<line x1="67.65" y1="395.50" x2="67.65" y2="397.30" stroke="#333" stroke-width="1.1"/>
<text x="67.65" y="405.78" font-size="6.9" font-weight="bold" text-anchor="middle" fill="#2a2a2a" stroke="#2a2a2a" stroke-width="0.05">5</text>
<line x1="96.55" y1="395.50" x2="96.55" y2="397.30" stroke="#333" stroke-width="1.1"/>
<text x="96.55" y="405.78" font-size="6.9" font-weight="bold" text-anchor="middle" fill="#2a2a2a" stroke="#2a2a2a" stroke-width="0.05">10</text>
<line x1="125.45" y1="395.50" x2="125.45" y2="397.30" stroke="#333" stroke-width="1.1"/>
<text x="125.45" y="405.78" font-size="6.9" font-weight="bold" text-anchor="middle" fill="#2a2a2a" stroke="#2a2a2a" stroke-width="0.05">15</text>
<line x1="154.35" y1="395.50" x2="154.35" y2="397.30" stroke="#333" stroke-width="1.1"/>
<text x="154.35" y="405.78" font-size="6.9" font-weight="bold" text-anchor="middle" fill="#2a2a2a" stroke="#2a2a2a" stroke-width="0.05">20</text>
<line x1="36.95" y1="395.50" x2="38.75" y2="395.50" stroke="#333" stroke-width="1.1"/>
<text x="34.00" y="397.98" font-size="6.9" font-weight="bold" text-anchor="end" fill="#2a2a2a" stroke="#2a2a2a" stroke-width="0.05">0</text>
<line x1="36.95" y1="374.62" x2="38.75" y2="374.62" stroke="#333" stroke-width="1.1"/>
<text x="34.00" y="377.11" font-size="6.9" font-weight="bold" text-anchor="end" fill="#2a2a2a" stroke="#2a2a2a" stroke-width="0.05">500</text>
<line x1="36.95" y1="353.75" x2="38.75" y2="353.75" stroke="#333" stroke-width="1.1"/>
<text x="34.00" y="356.23" font-size="6.9" font-weight="bold" text-anchor="end" fill="#2a2a2a" stroke="#2a2a2a" stroke-width="0.05">1,000</text>
<line x1="36.95" y1="332.88" x2="38.75" y2="332.88" stroke="#333" stroke-width="1.1"/>
<text x="34.00" y="335.36" font-size="6.9" font-weight="bold" text-anchor="end" fill="#2a2a2a" stroke="#2a2a2a" stroke-width="0.05">1,500</text>
<line x1="36.95" y1="312.00" x2="38.75" y2="312.00" stroke="#333" stroke-width="1.1"/>
<text x="34.00" y="314.48" font-size="6.9" font-weight="bold" text-anchor="end" fill="#2a2a2a" stroke="#2a2a2a" stroke-width="0.05">2,000</text>
<text x="95.40" y="417.77" font-size="8.8" font-weight="bold" text-anchor="middle" fill="#222" stroke="#222" stroke-width="0.18" textLength="86.5" lengthAdjust="spacingAndGlyphs">Days after inoculation</text>
<text x="6.00" y="356.85" font-size="8.6" font-weight="bold" text-anchor="middle" fill="#222" stroke="#222" stroke-width="0.18" textLength="82.5" lengthAdjust="spacingAndGlyphs" transform="rotate(-90 6.00 353.75)">Tumor volume (mm<tspan font-size="0.7em" dy="-0.35em">3</tspan><tspan dy="0.35em">)</tspan></text>
<polyline points="79.21,394.25 102.33,378.80 119.67,362.94 142.79,322.02" fill="none" stroke="#6a6a6a" stroke-width="1.3" stroke-linecap="butt" stroke-linejoin="miter"/>
<polyline points="79.21,394.25 102.33,384.85 119.67,372.12 142.79,355.21" fill="none" stroke="#39a8c0" stroke-width="1.0" stroke-linecap="butt" stroke-linejoin="miter"/>
<line x1="79.21" y1="394.67" x2="79.21" y2="393.83" stroke="#b0a8a8" stroke-width="0.9"/>
<line x1="77.41" y1="394.67" x2="81.01" y2="394.67" stroke="#b0a8a8" stroke-width="0.9"/>
<line x1="77.41" y1="393.83" x2="81.01" y2="393.83" stroke="#b0a8a8" stroke-width="0.9"/>
<rect x="77.11" y="392.15" width="4.20" height="4.20" fill="#7a7a7a"/>
<line x1="102.33" y1="383.81" x2="102.33" y2="373.79" stroke="#b0a8a8" stroke-width="0.9"/>
<line x1="100.53" y1="383.81" x2="104.13" y2="383.81" stroke="#b0a8a8" stroke-width="0.9"/>
<line x1="100.53" y1="373.79" x2="104.13" y2="373.79" stroke="#b0a8a8" stroke-width="0.9"/>
<rect x="100.23" y="376.70" width="4.20" height="4.20" fill="#7a7a7a"/>
<line x1="119.67" y1="370.45" x2="119.67" y2="355.42" stroke="#b0a8a8" stroke-width="0.9"/>
<line x1="117.87" y1="370.45" x2="121.47" y2="370.45" stroke="#b0a8a8" stroke-width="0.9"/>
<line x1="117.87" y1="355.42" x2="121.47" y2="355.42" stroke="#b0a8a8" stroke-width="0.9"/>
<rect x="117.57" y="360.83" width="4.20" height="4.20" fill="#7a7a7a"/>
<line x1="142.79" y1="333.71" x2="142.79" y2="310.33" stroke="#b0a8a8" stroke-width="0.9"/>
<line x1="140.99" y1="333.71" x2="144.59" y2="333.71" stroke="#b0a8a8" stroke-width="0.9"/>
<line x1="140.99" y1="310.33" x2="144.59" y2="310.33" stroke="#b0a8a8" stroke-width="0.9"/>
<rect x="140.69" y="319.92" width="4.20" height="4.20" fill="#7a7a7a"/>
<line x1="79.21" y1="394.67" x2="79.21" y2="393.83" stroke="#5ab0c0" stroke-width="0.9"/>
<line x1="77.41" y1="394.67" x2="81.01" y2="394.67" stroke="#5ab0c0" stroke-width="0.9"/>
<line x1="77.41" y1="393.83" x2="81.01" y2="393.83" stroke="#5ab0c0" stroke-width="0.9"/>
<rect x="76.91" y="391.95" width="4.60" height="4.60" fill="#1f7888"/>
<line x1="102.33" y1="386.52" x2="102.33" y2="383.18" stroke="#5ab0c0" stroke-width="0.9"/>
<line x1="100.53" y1="386.52" x2="104.13" y2="386.52" stroke="#5ab0c0" stroke-width="0.9"/>
<line x1="100.53" y1="383.18" x2="104.13" y2="383.18" stroke="#5ab0c0" stroke-width="0.9"/>
<rect x="100.03" y="382.55" width="4.60" height="4.60" fill="#1f7888"/>
<line x1="119.67" y1="376.71" x2="119.67" y2="367.53" stroke="#5ab0c0" stroke-width="0.9"/>
<line x1="117.87" y1="376.71" x2="121.47" y2="376.71" stroke="#5ab0c0" stroke-width="0.9"/>
<line x1="117.87" y1="367.53" x2="121.47" y2="367.53" stroke="#5ab0c0" stroke-width="0.9"/>
<rect x="117.37" y="369.82" width="4.60" height="4.60" fill="#1f7888"/>
<line x1="142.79" y1="364.81" x2="142.79" y2="345.61" stroke="#5ab0c0" stroke-width="0.9"/>
<line x1="140.99" y1="364.81" x2="144.59" y2="364.81" stroke="#5ab0c0" stroke-width="0.9"/>
<line x1="140.99" y1="345.61" x2="144.59" y2="345.61" stroke="#5ab0c0" stroke-width="0.9"/>
<rect x="140.49" y="352.91" width="4.60" height="4.60" fill="#1f7888"/>
<line x1="48.75" y1="311.25" x2="56.25" y2="311.25" stroke="#6a6a6a" stroke-width="1.2"/>
<rect x="50.40" y="309.15" width="4.20" height="4.20" fill="#7a7a7a"/>
<text x="61.80" y="314.62" font-size="8.4" font-weight="normal" text-anchor="start" fill="#222" stroke="#222" stroke-width="0.04" textLength="46.7" lengthAdjust="spacingAndGlyphs">Isotype control</text>
<line x1="48.75" y1="322.50" x2="56.25" y2="322.50" stroke="#39a8c0" stroke-width="1.0"/>
<rect x="50.20" y="320.20" width="4.60" height="4.60" fill="#1f7888"/>
<text x="61.50" y="325.72" font-size="8.4" font-weight="normal" text-anchor="start" fill="#222" stroke="#222" stroke-width="0.04" textLength="41.5" lengthAdjust="spacingAndGlyphs">αIL-18BP Ab</text>
<polyline points="150.30,319.30 155.50,319.30 155.50,355.30 150.30,355.30" fill="none" stroke="#111" stroke-width="1.5" stroke-linecap="butt" stroke-linejoin="miter"/>
<circle cx="158.70" cy="334.90" r="1.15" fill="#1a1a1a"/>
<circle cx="158.70" cy="339.00" r="1.15" fill="#1a1a1a"/>
<text x="163.30" y="339.57" font-size="6.3" font-weight="normal" text-anchor="start" fill="#222" stroke="#222" stroke-width="0.1" textLength="12.1" lengthAdjust="spacingAndGlyphs">46%</text>
<line x1="243.30" y1="397.05" x2="243.30" y2="314.60" stroke="#333" stroke-width="1.1"/>
<line x1="242.75" y1="396.50" x2="366.30" y2="396.50" stroke="#333" stroke-width="1.1"/>
<line x1="243.30" y1="396.50" x2="243.30" y2="399.00" stroke="#333" stroke-width="1.1"/>
<text x="243.30" y="407.02" font-size="7.0" font-weight="bold" text-anchor="middle" fill="#2a2a2a">0</text>
<line x1="274.05" y1="396.50" x2="274.05" y2="399.00" stroke="#333" stroke-width="1.1"/>
<text x="274.05" y="407.02" font-size="7.0" font-weight="bold" text-anchor="middle" fill="#2a2a2a">10</text>
<line x1="304.80" y1="396.50" x2="304.80" y2="399.00" stroke="#333" stroke-width="1.1"/>
<text x="304.80" y="407.02" font-size="7.0" font-weight="bold" text-anchor="middle" fill="#2a2a2a">20</text>
<line x1="335.55" y1="396.50" x2="335.55" y2="399.00" stroke="#333" stroke-width="1.1"/>
<text x="335.55" y="407.02" font-size="7.0" font-weight="bold" text-anchor="middle" fill="#2a2a2a">30</text>
<line x1="366.30" y1="396.50" x2="366.30" y2="399.00" stroke="#333" stroke-width="1.1"/>
<text x="366.30" y="407.02" font-size="7.0" font-weight="bold" text-anchor="middle" fill="#2a2a2a">40</text>
<line x1="258.68" y1="396.50" x2="258.68" y2="399.00" stroke="#333" stroke-width="1.1"/>
<line x1="289.43" y1="396.50" x2="289.43" y2="399.00" stroke="#333" stroke-width="1.1"/>
<line x1="320.18" y1="396.50" x2="320.18" y2="399.00" stroke="#333" stroke-width="1.1"/>
<line x1="350.93" y1="396.50" x2="350.93" y2="399.00" stroke="#333" stroke-width="1.1"/>
<line x1="240.80" y1="396.50" x2="243.30" y2="396.50" stroke="#333" stroke-width="1.1"/>
<text x="239.50" y="399.02" font-size="7.0" font-weight="bold" text-anchor="end" fill="#2a2a2a">0</text>
<line x1="240.80" y1="359.25" x2="243.30" y2="359.25" stroke="#333" stroke-width="1.1"/>
<text x="239.50" y="361.77" font-size="7.0" font-weight="bold" text-anchor="end" fill="#2a2a2a">50</text>
<line x1="240.80" y1="322.00" x2="243.30" y2="322.00" stroke="#333" stroke-width="1.1"/>
<text x="239.50" y="324.52" font-size="7.0" font-weight="bold" text-anchor="end" fill="#2a2a2a">100</text>
<line x1="241.40" y1="392.77" x2="243.30" y2="392.77" stroke="#333" stroke-width="0.9"/>
<line x1="241.40" y1="389.05" x2="243.30" y2="389.05" stroke="#333" stroke-width="0.9"/>
<line x1="241.40" y1="385.32" x2="243.30" y2="385.32" stroke="#333" stroke-width="0.9"/>
<line x1="241.40" y1="381.60" x2="243.30" y2="381.60" stroke="#333" stroke-width="0.9"/>
<line x1="241.40" y1="377.88" x2="243.30" y2="377.88" stroke="#333" stroke-width="0.9"/>
<line x1="241.40" y1="374.15" x2="243.30" y2="374.15" stroke="#333" stroke-width="0.9"/>
<line x1="241.40" y1="370.43" x2="243.30" y2="370.43" stroke="#333" stroke-width="0.9"/>
<line x1="241.40" y1="366.70" x2="243.30" y2="366.70" stroke="#333" stroke-width="0.9"/>
<line x1="241.40" y1="362.98" x2="243.30" y2="362.98" stroke="#333" stroke-width="0.9"/>
<line x1="241.40" y1="355.52" x2="243.30" y2="355.52" stroke="#333" stroke-width="0.9"/>
<line x1="241.40" y1="351.80" x2="243.30" y2="351.80" stroke="#333" stroke-width="0.9"/>
<line x1="241.40" y1="348.07" x2="243.30" y2="348.07" stroke="#333" stroke-width="0.9"/>
<line x1="241.40" y1="344.35" x2="243.30" y2="344.35" stroke="#333" stroke-width="0.9"/>
<line x1="241.40" y1="340.62" x2="243.30" y2="340.62" stroke="#333" stroke-width="0.9"/>
<line x1="241.40" y1="336.90" x2="243.30" y2="336.90" stroke="#333" stroke-width="0.9"/>
<line x1="241.40" y1="333.18" x2="243.30" y2="333.18" stroke="#333" stroke-width="0.9"/>
<line x1="241.40" y1="329.45" x2="243.30" y2="329.45" stroke="#333" stroke-width="0.9"/>
<line x1="241.40" y1="325.73" x2="243.30" y2="325.73" stroke="#333" stroke-width="0.9"/>
<line x1="241.40" y1="318.27" x2="243.30" y2="318.27" stroke="#333" stroke-width="0.9"/>
<text x="306.30" y="418.40" font-size="8.6" font-weight="bold" text-anchor="middle" fill="#222" stroke="#222" stroke-width="0.18" textLength="87" lengthAdjust="spacingAndGlyphs">Days after inoculation</text>
<text x="215.80" y="361.10" font-size="8.6" font-weight="bold" text-anchor="middle" fill="#222" stroke="#222" stroke-width="0.05" textLength="89" lengthAdjust="spacingAndGlyphs" transform="rotate(-90 215.80 358.00)">Probability of survival</text>
<polyline points="243.30,322.00 298.65,322.00 298.65,336.90 307.88,336.90 307.88,344.35 320.18,344.35 320.18,366.70 329.40,366.70 329.40,381.60 341.70,381.60 341.70,389.05 360.15,389.05" fill="none" stroke="#217f8f" stroke-width="1.6" stroke-linecap="butt" stroke-linejoin="miter"/>
<polyline points="243.30,322.00 298.65,322.00 298.65,359.25 307.88,359.25 307.88,381.60 320.18,381.60 320.18,396.50" fill="none" stroke="#a0a0a0" stroke-width="1.5" stroke-linecap="butt" stroke-linejoin="miter"/>
<line x1="338.80" y1="324.60" x2="348.00" y2="324.60" stroke="#a0a0a0" stroke-width="1.4"/>
<text x="351.40" y="327.82" font-size="8.4" font-weight="normal" text-anchor="start" fill="#222" stroke="#222" stroke-width="0.04" textLength="50" lengthAdjust="spacingAndGlyphs">Isotype control</text>
<line x1="338.80" y1="336.70" x2="348.00" y2="336.70" stroke="#217f8f" stroke-width="1.6"/>
<text x="351.40" y="339.92" font-size="8.4" font-weight="normal" text-anchor="start" fill="#222" stroke="#222" stroke-width="0.04" textLength="44" lengthAdjust="spacingAndGlyphs">αIL-18BP Ab</text>
<polyline points="405.80,322.90 411.00,322.90 411.00,338.50 405.80,338.50" fill="none" stroke="#111" stroke-width="1.6" stroke-linecap="butt" stroke-linejoin="miter"/>
<circle cx="415.80" cy="332.90" r="1.30" fill="#1a1a1a"/>
<line x1="28.00" y1="540.80" x2="28.00" y2="470.70" stroke="#333" stroke-width="1.0"/>
<line x1="27.50" y1="540.30" x2="131.50" y2="540.30" stroke="#333" stroke-width="1.0"/>
<line x1="37.60" y1="540.30" x2="37.60" y2="542.80" stroke="#333" stroke-width="1.0"/>
<text x="37.60" y="551.89" font-size="7.2" font-weight="normal" text-anchor="middle" fill="#333">15</text>
<line x1="58.90" y1="540.30" x2="58.90" y2="542.80" stroke="#333" stroke-width="1.0"/>
<text x="58.90" y="551.89" font-size="7.2" font-weight="normal" text-anchor="middle" fill="#333">19</text>
<line x1="79.40" y1="540.30" x2="79.40" y2="542.80" stroke="#333" stroke-width="1.0"/>
<text x="79.40" y="551.89" font-size="7.2" font-weight="normal" text-anchor="middle" fill="#333">21</text>
<line x1="100.00" y1="540.30" x2="100.00" y2="542.80" stroke="#333" stroke-width="1.0"/>
<text x="100.00" y="551.89" font-size="7.2" font-weight="normal" text-anchor="middle" fill="#333">25</text>
<line x1="120.70" y1="540.30" x2="120.70" y2="542.80" stroke="#333" stroke-width="1.0"/>
<text x="120.70" y="551.89" font-size="7.2" font-weight="normal" text-anchor="middle" fill="#333">28</text>
<line x1="25.50" y1="540.30" x2="28.00" y2="540.30" stroke="#333" stroke-width="1.0"/>
<text x="24.30" y="542.89" font-size="7.2" font-weight="normal" text-anchor="end" fill="#333">64</text>
<line x1="25.50" y1="526.38" x2="28.00" y2="526.38" stroke="#333" stroke-width="1.0"/>
<text x="24.30" y="528.97" font-size="7.2" font-weight="normal" text-anchor="end" fill="#333">128</text>
<line x1="25.50" y1="512.46" x2="28.00" y2="512.46" stroke="#333" stroke-width="1.0"/>
<text x="24.30" y="515.05" font-size="7.2" font-weight="normal" text-anchor="end" fill="#333">256</text>
<line x1="25.50" y1="498.54" x2="28.00" y2="498.54" stroke="#333" stroke-width="1.0"/>
<text x="24.30" y="501.13" font-size="7.2" font-weight="normal" text-anchor="end" fill="#333">512</text>
<line x1="25.50" y1="484.62" x2="28.00" y2="484.62" stroke="#333" stroke-width="1.0"/>
<text x="24.30" y="487.21" font-size="7.2" font-weight="normal" text-anchor="end" fill="#333">1,024</text>
<line x1="25.50" y1="470.70" x2="28.00" y2="470.70" stroke="#333" stroke-width="1.0"/>
<text x="24.30" y="473.29" font-size="7.2" font-weight="normal" text-anchor="end" fill="#333">2,048</text>
<text x="78.50" y="560.90" font-size="8.6" font-weight="bold" text-anchor="middle" fill="#222" stroke="#222" stroke-width="0.18" textLength="79.2" lengthAdjust="spacingAndGlyphs">Days after inoculation</text>
<polyline points="37.60,507.80 58.90,503.40 79.40,500.00 100.00,494.90 120.70,482.40" fill="none" stroke="#808080" stroke-width="1.1" stroke-linecap="butt" stroke-linejoin="miter" stroke-dasharray="2.5,1.8"/>
<polyline points="37.60,507.80 58.90,503.40 79.40,500.00 100.00,494.90 120.70,485.20" fill="none" stroke="#c070d0" stroke-width="1.1" stroke-linecap="butt" stroke-linejoin="miter" stroke-dasharray="2.5,1.8"/>
<polyline points="37.60,507.80 58.90,508.60 79.40,507.80 100.00,514.80 120.70,516.40" fill="none" stroke="#2a9aa0" stroke-width="1.1" stroke-linecap="butt" stroke-linejoin="miter"/>
<polyline points="37.60,507.80 58.90,514.30 79.40,513.50 100.00,526.80 120.70,535.60" fill="none" stroke="#9a5ac0" stroke-width="1.1" stroke-linecap="butt" stroke-linejoin="miter"/>
<rect x="35.70" y="505.90" width="3.80" height="3.80" fill="#2a9aa0"/>
<rect x="57.00" y="506.70" width="3.80" height="3.80" fill="#2a9aa0"/>
<rect x="77.50" y="505.90" width="3.80" height="3.80" fill="#2a9aa0"/>
<rect x="98.10" y="512.90" width="3.80" height="3.80" fill="#2a9aa0"/>
<rect x="118.80" y="514.50" width="3.80" height="3.80" fill="#2a9aa0"/>
<rect x="35.70" y="505.90" width="3.80" height="3.80" fill="#6b1a8e"/>
<rect x="57.00" y="512.40" width="3.80" height="3.80" fill="#6b1a8e"/>
<rect x="77.50" y="511.60" width="3.80" height="3.80" fill="#6b1a8e"/>
<rect x="98.10" y="524.90" width="3.80" height="3.80" fill="#6b1a8e"/>
<rect x="118.80" y="533.70" width="3.80" height="3.80" fill="#6b1a8e"/>
<rect x="35.70" y="505.90" width="3.80" height="3.80" fill="#e08ae0"/>
<rect x="57.00" y="501.50" width="3.80" height="3.80" fill="#e08ae0"/>
<rect x="77.50" y="498.10" width="3.80" height="3.80" fill="#e08ae0"/>
<rect x="98.10" y="493.00" width="3.80" height="3.80" fill="#e08ae0"/>
<rect x="118.80" y="483.30" width="3.80" height="3.80" fill="#e08ae0"/>
<rect x="35.70" y="505.90" width="3.80" height="3.80" fill="#808080"/>
<rect x="57.00" y="501.50" width="3.80" height="3.80" fill="#808080"/>
<rect x="77.50" y="498.10" width="3.80" height="3.80" fill="#808080"/>
<rect x="98.10" y="493.00" width="3.80" height="3.80" fill="#808080"/>
<rect x="118.80" y="480.50" width="3.80" height="3.80" fill="#808080"/>
<line x1="33.80" y1="443.90" x2="41.25" y2="443.90" stroke="#808080" stroke-width="1" stroke-dasharray="2,1.5"/>
<rect x="35.60" y="442.00" width="3.80" height="3.80" fill="#808080"/>
<text x="45.50" y="446.84" font-size="7.6" font-weight="normal" text-anchor="start" fill="#222" stroke="#222" stroke-width="0.04" textLength="46" lengthAdjust="spacingAndGlyphs">Isotype control</text>
<line x1="33.80" y1="453.00" x2="41.25" y2="453.00" stroke="#2a9aa0" stroke-width="1"/>
<rect x="35.60" y="451.10" width="3.80" height="3.80" fill="#2a9aa0"/>
<text x="45.50" y="455.94" font-size="7.6" font-weight="normal" text-anchor="start" fill="#222" stroke="#222" stroke-width="0.04" textLength="26.5" lengthAdjust="spacingAndGlyphs">αIL-18BP</text>
<line x1="33.80" y1="462.00" x2="41.25" y2="462.00" stroke="#e08ae0" stroke-width="1" stroke-dasharray="2,1.5"/>
<rect x="35.60" y="460.10" width="3.80" height="3.80" fill="#e08ae0"/>
<text x="45.50" y="464.94" font-size="7.6" font-weight="normal" text-anchor="start" fill="#222" stroke="#222" stroke-width="0.04" textLength="22" lengthAdjust="spacingAndGlyphs">αPD-L1</text>
<line x1="33.80" y1="471.40" x2="41.25" y2="471.40" stroke="#6b1a8e" stroke-width="1"/>
<rect x="35.60" y="469.50" width="3.80" height="3.80" fill="#6b1a8e"/>
<text x="45.50" y="474.34" font-size="7.6" font-weight="normal" text-anchor="start" fill="#222" stroke="#222" stroke-width="0.04" textLength="59.7" lengthAdjust="spacingAndGlyphs">αIL-18BP + αPD-L1</text>
<polyline points="124.50,481.10 127.90,481.10 127.90,515.40 124.50,515.40" fill="none" stroke="#888" stroke-width="1.1" stroke-linecap="butt" stroke-linejoin="miter"/>
<polyline points="124.50,518.40 127.90,518.40 127.90,535.80 124.50,535.80" fill="none" stroke="#888" stroke-width="1.1" stroke-linecap="butt" stroke-linejoin="miter"/>
<text x="139.90" y="501.74" font-size="7.6" font-weight="bold" text-anchor="middle" fill="#222" stroke="#222" stroke-width="0.15" textLength="11.8" lengthAdjust="spacingAndGlyphs" transform="rotate(90 139.90 499.00)">83%</text>
<circle cx="131.60" cy="495.00" r="1.10" fill="#1a1a1a"/>
<circle cx="131.60" cy="498.60" r="1.10" fill="#1a1a1a"/>
<circle cx="131.60" cy="502.20" r="1.10" fill="#1a1a1a"/>
<text x="139.90" y="529.24" font-size="7.6" font-weight="bold" text-anchor="middle" fill="#222" stroke="#222" stroke-width="0.15" textLength="11.8" lengthAdjust="spacingAndGlyphs" transform="rotate(90 139.90 526.50)">61%</text>
<circle cx="131.60" cy="527.20" r="1.10" fill="#1a1a1a"/>
<line x1="181.60" y1="540.25" x2="181.60" y2="476.00" stroke="#333" stroke-width="0.9"/>
<line x1="181.15" y1="539.80" x2="225.70" y2="539.80" stroke="#333" stroke-width="0.9"/>
<line x1="185.60" y1="539.80" x2="185.60" y2="541.60" stroke="#333" stroke-width="0.9"/>
<text x="185.60" y="548.40" font-size="5.0" font-weight="bold" text-anchor="middle" fill="#2a2a2a" stroke="#2a2a2a" stroke-width="0.12">15</text>
<line x1="194.50" y1="539.80" x2="194.50" y2="541.60" stroke="#333" stroke-width="0.9"/>
<text x="194.50" y="548.40" font-size="5.0" font-weight="bold" text-anchor="middle" fill="#2a2a2a" stroke="#2a2a2a" stroke-width="0.12">19</text>
<line x1="203.40" y1="539.80" x2="203.40" y2="541.60" stroke="#333" stroke-width="0.9"/>
<text x="203.40" y="548.40" font-size="5.0" font-weight="bold" text-anchor="middle" fill="#2a2a2a" stroke="#2a2a2a" stroke-width="0.12">21</text>
<line x1="212.30" y1="539.80" x2="212.30" y2="541.60" stroke="#333" stroke-width="0.9"/>
<text x="212.30" y="548.40" font-size="5.0" font-weight="bold" text-anchor="middle" fill="#2a2a2a" stroke="#2a2a2a" stroke-width="0.12">25</text>
<line x1="221.20" y1="539.80" x2="221.20" y2="541.60" stroke="#333" stroke-width="0.9"/>
<text x="221.20" y="548.40" font-size="5.0" font-weight="bold" text-anchor="middle" fill="#2a2a2a" stroke="#2a2a2a" stroke-width="0.12">28</text>
<line x1="179.80" y1="539.80" x2="181.60" y2="539.80" stroke="#333" stroke-width="0.9"/>
<text x="178.80" y="541.60" font-size="5.0" font-weight="bold" text-anchor="end" fill="#2a2a2a" stroke="#2a2a2a" stroke-width="0.12">0</text>
<line x1="179.80" y1="518.53" x2="181.60" y2="518.53" stroke="#333" stroke-width="0.9"/>
<text x="178.80" y="520.33" font-size="5.0" font-weight="bold" text-anchor="end" fill="#2a2a2a" stroke="#2a2a2a" stroke-width="0.12">500</text>
<line x1="179.80" y1="497.27" x2="181.60" y2="497.27" stroke="#333" stroke-width="0.9"/>
<text x="178.80" y="499.07" font-size="5.0" font-weight="bold" text-anchor="end" fill="#2a2a2a" stroke="#2a2a2a" stroke-width="0.12">1,000</text>
<line x1="179.80" y1="476.00" x2="181.60" y2="476.00" stroke="#333" stroke-width="0.9"/>
<text x="178.80" y="477.80" font-size="5.0" font-weight="bold" text-anchor="end" fill="#2a2a2a" stroke="#2a2a2a" stroke-width="0.12">1,500</text>
<text x="199.40" y="471.90" font-size="8.6" font-weight="bold" text-anchor="middle" fill="#222" stroke="#222" stroke-width="0.18" textLength="25.4" lengthAdjust="spacingAndGlyphs">Isotype</text>
<text x="203.50" y="559.90" font-size="8.6" font-weight="bold" text-anchor="middle" fill="#222" stroke="#222" stroke-width="0.18" textLength="72.5" lengthAdjust="spacingAndGlyphs">Days after inoculation</text>
<text x="157.90" y="511.16" font-size="7.4" font-weight="bold" text-anchor="middle" fill="#222" stroke="#222" stroke-width="0.18" textLength="70.5" lengthAdjust="spacingAndGlyphs" transform="rotate(-90 157.90 508.50)">Tumor volume (mm<tspan font-size="0.7em" dy="-0.35em">3</tspan><tspan dy="0.35em">)</tspan></text>
<clipPath id="c181"><rect x="181.6" y="475" width="44.599999999999994" height="64.79999999999995"/></clipPath>
<g clip-path="url(#c181)">
<polyline points="185.60,515.22 194.50,494.71 203.40,476.00 212.30,433.47 221.20,412.20" fill="none" stroke="#444" stroke-width="0.85" stroke-linecap="butt" stroke-linejoin="miter"/>
<polyline points="185.60,516.53 194.50,518.53 203.40,521.21 212.30,510.03 221.20,476.00" fill="none" stroke="#444" stroke-width="0.85" stroke-linecap="butt" stroke-linejoin="miter"/>
<polyline points="185.60,521.21 194.50,519.81 203.40,513.22 212.30,515.13 221.20,501.95" fill="none" stroke="#444" stroke-width="0.85" stroke-linecap="butt" stroke-linejoin="miter"/>
<polyline points="185.60,523.21 194.50,521.94 203.40,523.21 212.30,515.98 221.20,503.94" fill="none" stroke="#444" stroke-width="0.85" stroke-linecap="butt" stroke-linejoin="miter"/>
<polyline points="185.60,526.53 194.50,525.34 203.40,527.04 212.30,520.66 221.20,509.90" fill="none" stroke="#444" stroke-width="0.85" stroke-linecap="butt" stroke-linejoin="miter"/>
<polyline points="185.60,528.53 194.50,527.04 203.40,524.91 212.30,521.94 221.20,515.22" fill="none" stroke="#444" stroke-width="0.85" stroke-linecap="butt" stroke-linejoin="miter"/>
<polyline points="185.60,530.49 194.50,529.17 203.40,526.19 212.30,523.64 221.20,518.53" fill="none" stroke="#444" stroke-width="0.85" stroke-linecap="butt" stroke-linejoin="miter"/>
<polyline points="185.60,533.16 194.50,527.04 203.40,527.89 212.30,526.19 221.20,523.85" fill="none" stroke="#444" stroke-width="0.85" stroke-linecap="butt" stroke-linejoin="miter"/>
<polyline points="185.60,533.85 194.50,532.14 203.40,528.74 212.30,525.76 221.20,528.53" fill="none" stroke="#444" stroke-width="0.85" stroke-linecap="butt" stroke-linejoin="miter"/>
<polyline points="185.60,533.16 194.50,530.02 203.40,528.32 212.30,529.59 221.20,532.48" fill="none" stroke="#444" stroke-width="0.85" stroke-linecap="butt" stroke-linejoin="miter"/>
<polyline points="185.60,533.85 194.50,531.29 203.40,527.04 212.30,529.17 221.20,531.29" fill="none" stroke="#444" stroke-width="0.85" stroke-linecap="butt" stroke-linejoin="miter"/>
</g>
<line x1="271.00" y1="540.65" x2="271.00" y2="476.60" stroke="#333" stroke-width="0.9"/>
<line x1="270.55" y1="540.20" x2="315.90" y2="540.20" stroke="#333" stroke-width="0.9"/>
<line x1="275.30" y1="540.20" x2="275.30" y2="542.00" stroke="#333" stroke-width="0.9"/>
<text x="275.30" y="548.60" font-size="5.0" font-weight="bold" text-anchor="middle" fill="#2a2a2a" stroke="#2a2a2a" stroke-width="0.12">15</text>
<line x1="284.32" y1="540.20" x2="284.32" y2="542.00" stroke="#333" stroke-width="0.9"/>
<text x="284.32" y="548.60" font-size="5.0" font-weight="bold" text-anchor="middle" fill="#2a2a2a" stroke="#2a2a2a" stroke-width="0.12">19</text>
<line x1="293.35" y1="540.20" x2="293.35" y2="542.00" stroke="#333" stroke-width="0.9"/>
<text x="293.35" y="548.60" font-size="5.0" font-weight="bold" text-anchor="middle" fill="#2a2a2a" stroke="#2a2a2a" stroke-width="0.12">21</text>
<line x1="302.38" y1="540.20" x2="302.38" y2="542.00" stroke="#333" stroke-width="0.9"/>
<text x="302.38" y="548.60" font-size="5.0" font-weight="bold" text-anchor="middle" fill="#2a2a2a" stroke="#2a2a2a" stroke-width="0.12">25</text>
<line x1="311.40" y1="540.20" x2="311.40" y2="542.00" stroke="#333" stroke-width="0.9"/>
<text x="311.40" y="548.60" font-size="5.0" font-weight="bold" text-anchor="middle" fill="#2a2a2a" stroke="#2a2a2a" stroke-width="0.12">28</text>
<line x1="269.20" y1="540.20" x2="271.00" y2="540.20" stroke="#333" stroke-width="0.9"/>
<text x="268.20" y="542.00" font-size="5.0" font-weight="bold" text-anchor="end" fill="#2a2a2a" stroke="#2a2a2a" stroke-width="0.12">0</text>
<line x1="269.20" y1="519.00" x2="271.00" y2="519.00" stroke="#333" stroke-width="0.9"/>
<text x="268.20" y="520.80" font-size="5.0" font-weight="bold" text-anchor="end" fill="#2a2a2a" stroke="#2a2a2a" stroke-width="0.12">500</text>
<line x1="269.20" y1="497.80" x2="271.00" y2="497.80" stroke="#333" stroke-width="0.9"/>
<text x="268.20" y="499.60" font-size="5.0" font-weight="bold" text-anchor="end" fill="#2a2a2a" stroke="#2a2a2a" stroke-width="0.12">1,000</text>
<line x1="269.20" y1="476.60" x2="271.00" y2="476.60" stroke="#333" stroke-width="0.9"/>
<text x="268.20" y="478.40" font-size="5.0" font-weight="bold" text-anchor="end" fill="#2a2a2a" stroke="#2a2a2a" stroke-width="0.12">1,500</text>
<text x="293.00" y="472.50" font-size="8.6" font-weight="bold" text-anchor="middle" fill="#222" stroke="#222" stroke-width="0.18" textLength="35" lengthAdjust="spacingAndGlyphs">αIL-18BP</text>
<text x="293.30" y="559.90" font-size="8.6" font-weight="bold" text-anchor="middle" fill="#222" stroke="#222" stroke-width="0.18" textLength="72.5" lengthAdjust="spacingAndGlyphs">Days after inoculation</text>
<text x="248.20" y="511.16" font-size="7.4" font-weight="bold" text-anchor="middle" fill="#222" stroke="#222" stroke-width="0.18" textLength="70.5" lengthAdjust="spacingAndGlyphs" transform="rotate(-90 248.20 508.50)">Tumor volume (mm<tspan font-size="0.7em" dy="-0.35em">3</tspan><tspan dy="0.35em">)</tspan></text>
<clipPath id="c271"><rect x="271" y="475.6" width="45.39999999999998" height="64.60000000000002"/></clipPath>
<g clip-path="url(#c271)">
<polyline points="275.30,517.01 284.32,511.71 293.35,501.11 302.38,493.43 311.40,495.17" fill="none" stroke="#444" stroke-width="0.85" stroke-linecap="butt" stroke-linejoin="miter"/>
<polyline points="275.30,519.68 284.32,511.71 293.35,505.77 302.38,522.99 311.40,521.67" fill="none" stroke="#444" stroke-width="0.85" stroke-linecap="butt" stroke-linejoin="miter"/>
<polyline points="275.30,526.29 284.32,526.29 293.35,525.61 302.38,532.91 311.40,535.58" fill="none" stroke="#444" stroke-width="0.85" stroke-linecap="butt" stroke-linejoin="miter"/>
<polyline points="275.30,526.97 284.32,527.61 293.35,527.61 302.38,534.26 311.40,532.27" fill="none" stroke="#444" stroke-width="0.85" stroke-linecap="butt" stroke-linejoin="miter"/>
<polyline points="275.30,530.28 284.32,528.96 293.35,528.96 302.38,534.26 311.40,536.89" fill="none" stroke="#444" stroke-width="0.85" stroke-linecap="butt" stroke-linejoin="miter"/>
<polyline points="275.30,530.91 284.32,534.26 293.35,538.21 302.38,540.20 311.40,538.21" fill="none" stroke="#444" stroke-width="0.85" stroke-linecap="butt" stroke-linejoin="miter"/>
<polyline points="275.30,535.58 284.32,534.90 293.35,535.58 302.38,536.21 311.40,535.58" fill="none" stroke="#444" stroke-width="0.85" stroke-linecap="butt" stroke-linejoin="miter"/>
<polyline points="275.30,526.97 284.32,534.26 293.35,530.91 302.38,536.89 311.40,538.89" fill="none" stroke="#444" stroke-width="0.85" stroke-linecap="butt" stroke-linejoin="miter"/>
<polyline points="275.30,535.58 284.32,532.91 293.35,536.89 302.38,540.20 311.40,540.20" fill="none" stroke="#444" stroke-width="0.85" stroke-linecap="butt" stroke-linejoin="miter"/>
<polyline points="275.30,528.96 284.32,528.29 293.35,530.28 302.38,535.58 311.40,531.59" fill="none" stroke="#444" stroke-width="0.85" stroke-linecap="butt" stroke-linejoin="miter"/>
</g>
<line x1="364.20" y1="540.25" x2="364.20" y2="475.40" stroke="#333" stroke-width="0.9"/>
<line x1="363.75" y1="539.80" x2="410.40" y2="539.80" stroke="#333" stroke-width="0.9"/>
<line x1="368.50" y1="539.80" x2="368.50" y2="541.60" stroke="#333" stroke-width="0.9"/>
<text x="368.50" y="548.40" font-size="5.0" font-weight="bold" text-anchor="middle" fill="#2a2a2a" stroke="#2a2a2a" stroke-width="0.12">15</text>
<line x1="377.85" y1="539.80" x2="377.85" y2="541.60" stroke="#333" stroke-width="0.9"/>
<text x="377.85" y="548.40" font-size="5.0" font-weight="bold" text-anchor="middle" fill="#2a2a2a" stroke="#2a2a2a" stroke-width="0.12">19</text>
<line x1="387.20" y1="539.80" x2="387.20" y2="541.60" stroke="#333" stroke-width="0.9"/>
<text x="387.20" y="548.40" font-size="5.0" font-weight="bold" text-anchor="middle" fill="#2a2a2a" stroke="#2a2a2a" stroke-width="0.12">21</text>
<line x1="396.55" y1="539.80" x2="396.55" y2="541.60" stroke="#333" stroke-width="0.9"/>
<text x="396.55" y="548.40" font-size="5.0" font-weight="bold" text-anchor="middle" fill="#2a2a2a" stroke="#2a2a2a" stroke-width="0.12">25</text>
<line x1="405.90" y1="539.80" x2="405.90" y2="541.60" stroke="#333" stroke-width="0.9"/>
<text x="405.90" y="548.40" font-size="5.0" font-weight="bold" text-anchor="middle" fill="#2a2a2a" stroke="#2a2a2a" stroke-width="0.12">28</text>
<line x1="362.40" y1="539.80" x2="364.20" y2="539.80" stroke="#333" stroke-width="0.9"/>
<text x="361.40" y="541.60" font-size="5.0" font-weight="bold" text-anchor="end" fill="#2a2a2a" stroke="#2a2a2a" stroke-width="0.12">0</text>
<line x1="362.40" y1="518.33" x2="364.20" y2="518.33" stroke="#333" stroke-width="0.9"/>
<text x="361.40" y="520.13" font-size="5.0" font-weight="bold" text-anchor="end" fill="#2a2a2a" stroke="#2a2a2a" stroke-width="0.12">500</text>
<line x1="362.40" y1="496.87" x2="364.20" y2="496.87" stroke="#333" stroke-width="0.9"/>
<text x="361.40" y="498.67" font-size="5.0" font-weight="bold" text-anchor="end" fill="#2a2a2a" stroke="#2a2a2a" stroke-width="0.12">1,000</text>
<line x1="362.40" y1="475.40" x2="364.20" y2="475.40" stroke="#333" stroke-width="0.9"/>
<text x="361.40" y="477.20" font-size="5.0" font-weight="bold" text-anchor="end" fill="#2a2a2a" stroke="#2a2a2a" stroke-width="0.12">1,500</text>
<text x="382.70" y="470.50" font-size="8.6" font-weight="bold" text-anchor="middle" fill="#222" stroke="#222" stroke-width="0.18" textLength="26" lengthAdjust="spacingAndGlyphs">αPD-L1</text>
<text x="387.20" y="559.70" font-size="8.6" font-weight="bold" text-anchor="middle" fill="#222" stroke="#222" stroke-width="0.18" textLength="72.5" lengthAdjust="spacingAndGlyphs">Days after inoculation</text>
<text x="341.70" y="511.16" font-size="7.4" font-weight="bold" text-anchor="middle" fill="#222" stroke="#222" stroke-width="0.18" textLength="70.5" lengthAdjust="spacingAndGlyphs" transform="rotate(-90 341.70 508.50)">Tumor volume (mm<tspan font-size="0.7em" dy="-0.35em">3</tspan><tspan dy="0.35em">)</tspan></text>
<clipPath id="c364"><rect x="364.2" y="474.4" width="46.69999999999999" height="65.39999999999998"/></clipPath>
<g clip-path="url(#c364)">
<polyline points="368.50,516.92 377.85,500.43 387.20,493.99 396.55,483.26 405.90,449.64" fill="none" stroke="#444" stroke-width="0.85" stroke-linecap="butt" stroke-linejoin="miter"/>
<polyline points="368.50,520.48 377.85,504.72 387.20,491.84 396.55,468.10 405.90,432.47" fill="none" stroke="#444" stroke-width="0.85" stroke-linecap="butt" stroke-linejoin="miter"/>
<polyline points="368.50,521.90 377.85,523.36 387.20,517.60 396.55,490.43 405.90,465.95" fill="none" stroke="#444" stroke-width="0.85" stroke-linecap="butt" stroke-linejoin="miter"/>
<polyline points="368.50,523.36 377.85,524.77 387.20,526.19 396.55,529.07 405.90,518.33" fill="none" stroke="#444" stroke-width="0.85" stroke-linecap="butt" stroke-linejoin="miter"/>
<polyline points="368.50,525.50 377.85,533.36 387.20,530.48 396.55,534.78 405.90,529.07" fill="none" stroke="#444" stroke-width="0.85" stroke-linecap="butt" stroke-linejoin="miter"/>
<polyline points="368.50,527.65 377.85,527.65 387.20,531.94 396.55,533.36 405.90,534.78" fill="none" stroke="#444" stroke-width="0.85" stroke-linecap="butt" stroke-linejoin="miter"/>
<polyline points="368.50,529.07 377.85,530.48 387.20,531.94 396.55,536.24 405.90,537.65" fill="none" stroke="#444" stroke-width="0.85" stroke-linecap="butt" stroke-linejoin="miter"/>
<polyline points="368.50,534.09 377.85,536.24 387.20,531.94 396.55,538.38 405.90,538.38" fill="none" stroke="#444" stroke-width="0.85" stroke-linecap="butt" stroke-linejoin="miter"/>
<polyline points="368.50,530.48 377.85,531.94 387.20,531.21 396.55,534.09 405.90,533.36" fill="none" stroke="#444" stroke-width="0.85" stroke-linecap="butt" stroke-linejoin="miter"/>
<polyline points="368.50,524.77 377.85,527.65 387.20,529.07 396.55,536.24 405.90,539.07" fill="none" stroke="#444" stroke-width="0.85" stroke-linecap="butt" stroke-linejoin="miter"/>
<polyline points="368.50,529.80 377.85,525.50 387.20,531.94 396.55,534.78 405.90,531.94" fill="none" stroke="#444" stroke-width="0.85" stroke-linecap="butt" stroke-linejoin="miter"/>
</g>
<line x1="457.80" y1="538.05" x2="457.80" y2="473.80" stroke="#333" stroke-width="0.9"/>
<line x1="457.35" y1="537.60" x2="498.70" y2="537.60" stroke="#333" stroke-width="0.9"/>
<line x1="462.50" y1="537.60" x2="462.50" y2="539.40" stroke="#333" stroke-width="0.9"/>
<text x="462.50" y="545.80" font-size="5.0" font-weight="bold" text-anchor="middle" fill="#2a2a2a" stroke="#2a2a2a" stroke-width="0.12">15</text>
<line x1="470.43" y1="537.60" x2="470.43" y2="539.40" stroke="#333" stroke-width="0.9"/>
<text x="470.43" y="545.80" font-size="5.0" font-weight="bold" text-anchor="middle" fill="#2a2a2a" stroke="#2a2a2a" stroke-width="0.12">19</text>
<line x1="478.35" y1="537.60" x2="478.35" y2="539.40" stroke="#333" stroke-width="0.9"/>
<text x="478.35" y="545.80" font-size="5.0" font-weight="bold" text-anchor="middle" fill="#2a2a2a" stroke="#2a2a2a" stroke-width="0.12">21</text>
<line x1="486.27" y1="537.60" x2="486.27" y2="539.40" stroke="#333" stroke-width="0.9"/>
<text x="486.27" y="545.80" font-size="5.0" font-weight="bold" text-anchor="middle" fill="#2a2a2a" stroke="#2a2a2a" stroke-width="0.12">25</text>
<line x1="494.20" y1="537.60" x2="494.20" y2="539.40" stroke="#333" stroke-width="0.9"/>
<text x="494.20" y="545.80" font-size="5.0" font-weight="bold" text-anchor="middle" fill="#2a2a2a" stroke="#2a2a2a" stroke-width="0.12">28</text>
<line x1="456.00" y1="537.60" x2="457.80" y2="537.60" stroke="#333" stroke-width="0.9"/>
<text x="455.00" y="539.40" font-size="5.0" font-weight="bold" text-anchor="end" fill="#2a2a2a" stroke="#2a2a2a" stroke-width="0.12">0</text>
<line x1="456.00" y1="516.33" x2="457.80" y2="516.33" stroke="#333" stroke-width="0.9"/>
<text x="455.00" y="518.13" font-size="5.0" font-weight="bold" text-anchor="end" fill="#2a2a2a" stroke="#2a2a2a" stroke-width="0.12">500</text>
<line x1="456.00" y1="495.07" x2="457.80" y2="495.07" stroke="#333" stroke-width="0.9"/>
<text x="455.00" y="496.87" font-size="5.0" font-weight="bold" text-anchor="end" fill="#2a2a2a" stroke="#2a2a2a" stroke-width="0.12">1,000</text>
<line x1="456.00" y1="473.80" x2="457.80" y2="473.80" stroke="#333" stroke-width="0.9"/>
<text x="455.00" y="475.60" font-size="5.0" font-weight="bold" text-anchor="end" fill="#2a2a2a" stroke="#2a2a2a" stroke-width="0.12">1,500</text>
<text x="487.50" y="467.20" font-size="8.6" font-weight="bold" text-anchor="middle" fill="#222" stroke="#222" stroke-width="0.18" textLength="63" lengthAdjust="spacingAndGlyphs">αPD-L1+αIL-18BP</text>
<text x="478.40" y="557.10" font-size="8.6" font-weight="bold" text-anchor="middle" fill="#222" stroke="#222" stroke-width="0.18" textLength="73" lengthAdjust="spacingAndGlyphs">Days after inoculation</text>
<text x="435.80" y="511.66" font-size="7.4" font-weight="bold" text-anchor="middle" fill="#222" stroke="#222" stroke-width="0.18" textLength="70" lengthAdjust="spacingAndGlyphs" transform="rotate(-90 435.80 509.00)">Tumor volume (mm<tspan font-size="0.7em" dy="-0.35em">3</tspan><tspan dy="0.35em">)</tspan></text>
<clipPath id="c457"><rect x="457.8" y="472.8" width="41.39999999999998" height="64.80000000000001"/></clipPath>
<g clip-path="url(#c457)">
<polyline points="462.50,513.91 470.43,516.04 478.35,517.48 486.27,526.67 494.20,530.92" fill="none" stroke="#444" stroke-width="0.85" stroke-linecap="butt" stroke-linejoin="miter"/>
<polyline points="462.50,515.36 470.43,518.16 478.35,520.29 486.27,528.80 494.20,531.65" fill="none" stroke="#444" stroke-width="0.85" stroke-linecap="butt" stroke-linejoin="miter"/>
<polyline points="462.50,518.89 470.43,524.54 478.35,521.01 486.27,530.24 494.20,532.37" fill="none" stroke="#444" stroke-width="0.85" stroke-linecap="butt" stroke-linejoin="miter"/>
<polyline points="462.50,522.42 470.43,527.39 478.35,520.29 486.27,531.65 494.20,534.50" fill="none" stroke="#444" stroke-width="0.85" stroke-linecap="butt" stroke-linejoin="miter"/>
<polyline points="462.50,524.54 470.43,531.65 478.35,530.92 486.27,533.05 494.20,535.90" fill="none" stroke="#444" stroke-width="0.85" stroke-linecap="butt" stroke-linejoin="miter"/>
<polyline points="462.50,525.99 470.43,532.37 478.35,531.65 486.27,534.50 494.20,537.30" fill="none" stroke="#444" stroke-width="0.85" stroke-linecap="butt" stroke-linejoin="miter"/>
<polyline points="462.50,530.92 470.43,530.92 478.35,532.37 486.27,534.50 494.20,536.62" fill="none" stroke="#444" stroke-width="0.85" stroke-linecap="butt" stroke-linejoin="miter"/>
<polyline points="462.50,521.74 470.43,521.74 478.35,523.14 486.27,529.52 494.20,535.18" fill="none" stroke="#444" stroke-width="0.85" stroke-linecap="butt" stroke-linejoin="miter"/>
<polyline points="462.50,523.86 470.43,528.80 478.35,530.92 486.27,535.18 494.20,535.90" fill="none" stroke="#444" stroke-width="0.85" stroke-linecap="butt" stroke-linejoin="miter"/>
</g>
</svg></body></html>
